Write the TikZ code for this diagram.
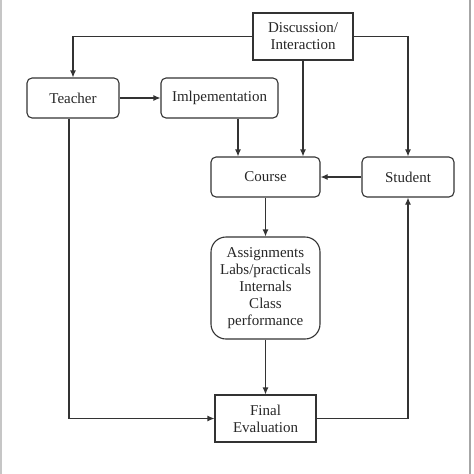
\documentclass[tikz,border=0pt]{standalone}
\usepackage{fontspec}
\setmainfont{Liberation Serif}
\usetikzlibrary{arrows.meta}
\begin{document}
\begin{tikzpicture}[x=1pt,y=-1pt,
  box/.style={draw=black!80, line width=1.1pt, text=black!85, align=center,
    font=\fontsize{15}{17}\selectfont, inner sep=0pt},
  rbox/.style={box, rounded corners=5pt},
  conn/.style={draw=black!80, line width=1.1pt},
  arr/.style={conn, -{Latex[length=7pt,width=6pt]}}]
\useasboundingbox (0,0) rectangle (474,474);
\draw[gray!45, line width=2pt] (1,0) -- (1,474);
\draw[gray!70, line width=2pt] (470,0) -- (470,474);

\node[box, minimum width=100pt, minimum height=47pt] (disc) at (303,36.5) {Discussion/\\Interaction};
\node[rbox, minimum width=92pt, minimum height=40pt] (teacher) at (73,98) {Teacher};
\node[rbox, minimum width=117pt, minimum height=40pt] (impl) at (219.5,98) {Imlpementation};
\node[rbox, minimum width=109pt, minimum height=40pt] (course) at (265.5,177) {Course};
\node[rbox, minimum width=92pt, minimum height=40pt] (student) at (408,177) {Student};
\node[box, rounded corners=15pt, minimum width=109pt, minimum height=102pt] (assign) at (265.5,288) {Assignments\\Labs/practicals\\Internals\\Class\\performance};
\node[box, minimum width=101pt, minimum height=47pt] (final) at (265.5,418.5) {Final\\Evaluation};

\draw[arr] (disc.west) -| (teacher.north);
\draw[arr] (disc.east) -| (student.north);
\draw[arr] (disc.south) -- (disc.south |- course.north);
\draw[arr] (teacher.east) -- (impl.west);
\draw[arr] ([xshift=18.5pt]impl.south) -- ([xshift=18.5pt]impl.south |- course.north);
\draw[arr] (student.west) -- (course.east);
\draw[arr] (course.south) -- (assign.north);
\draw[arr] (assign.south) -- (final.north);
\draw[arr] ([xshift=-4pt]teacher.south) |- (final.west);
\draw[arr] (final.east) -| (student.south);
\end{tikzpicture}
\end{document}
